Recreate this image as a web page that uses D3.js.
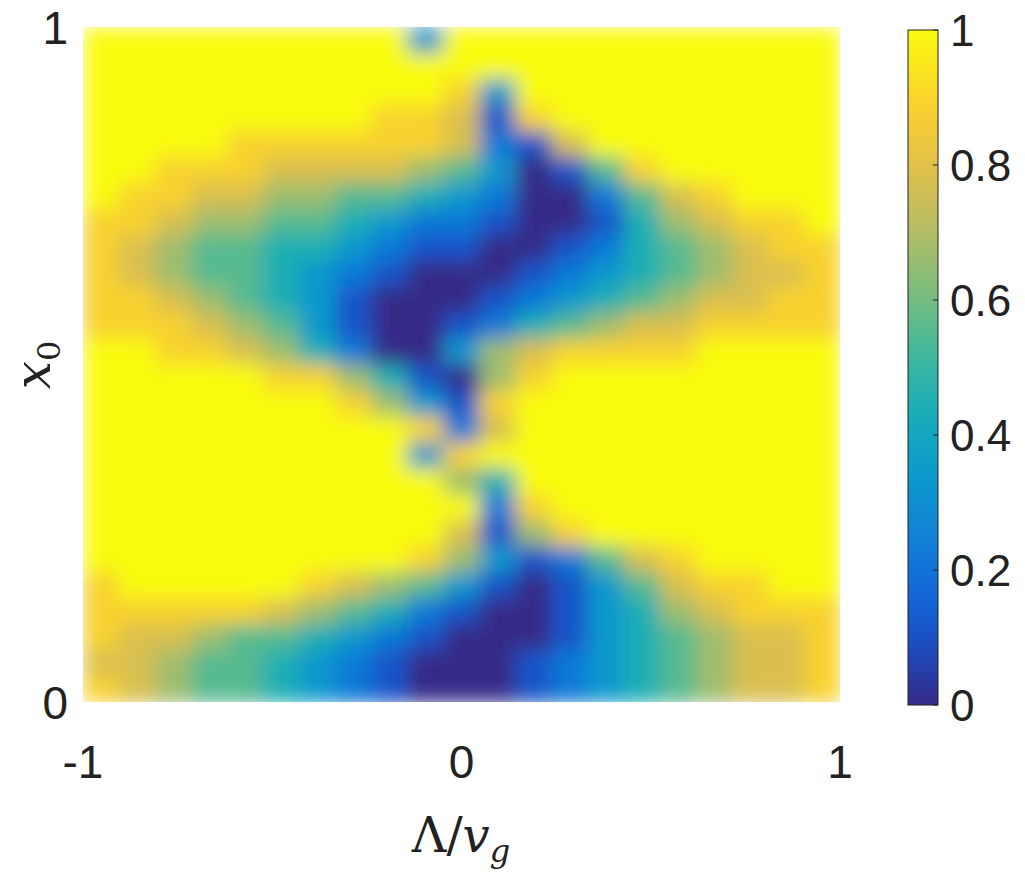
<!DOCTYPE html>
<html>
<head>
<meta charset="utf-8">
<script src="https://cdn.jsdelivr.net/npm/d3@7"></script>
<style>
  body { margin: 0; background: #fff; }
  text { font-family: "Liberation Sans", Arial, sans-serif; fill: #222; }
</style>
</head>
<body>
<svg id="chart" width="1025" height="873"></svg>
<script>
// Λ/v_g column centres, -1 .. 1
const lambdas = d3.range(21).map((i) => +(-1 + i * 0.1).toFixed(1))
// x0 rows, top (1) to bottom (0)
const x0s = d3.range(26).map((i) => +(1 - i * 0.04).toFixed(2))
// one digit per cell, 0..9 (9 = 1.0)
const rows = [
  '999999999399999999999',
  '999999999999999999999',
  '999999999983999999999',
  '999999998871899999999',
  '999988888872179999999',
  '998887777653015899999',
  '988776655432002578999',
  '887665543221001467889',
  '876554432110012456788',
  '876554321000123456778',
  '887654310001234567788',
  '888765310012456778888',
  '998876420036788889999',
  '999998864106899999999',
  '999999986318999999999',
  '999999999827999999999',
  '999999999389999999999',
  '999999999964999999999',
  '999999999992899999999',
  '999999999971689999999',
  '999999999863125789999',
  '899999876531013578899',
  '888887654210013467888',
  '877655432100013456778',
  '776554321000123456778',
  '876554321000123456778'
]
const cells = []
rows.forEach((r, j) => r.split('').forEach((c, i) => cells.push({ i, j, v: +c / 9 })))
const xTicks = [-1, 0, 1]
const yTicks = [0, 1]
const cbTicks = [0, 0.2, 0.4, 0.6, 0.8, 1]
const parula = ['#352a87', '#0f5cdd', '#1481d6', '#06a4ca', '#2eb7a4', '#87bf77', '#d1bb59', '#fec832', '#f9fb0e']

const plot = { left: 83, right: 840, top: 27, bottom: 702 }
const svg = d3.select('#chart')
const color = d3.scaleSequential(d3.interpolateRgbBasis(parula)).domain([0, 1])

const xBand = d3.scaleBand().domain(d3.range(lambdas.length)).range([plot.left, plot.right])
const yBand = d3.scaleBand().domain(d3.range(x0s.length)).range([plot.top, plot.bottom])
const xScale = d3.scaleLinear().domain([-1, 1]).range([plot.left, plot.right])
const yScale = d3.scaleLinear().domain([0, 1]).range([plot.bottom, plot.top])

const defs = svg.append('defs')
defs.append('clipPath').attr('id', 'clip')
  .append('rect')
  .attr('x', plot.left).attr('y', plot.top)
  .attr('width', plot.right - plot.left).attr('height', plot.bottom - plot.top)
defs.append('filter').attr('id', 'soft')
  .attr('x', 0).attr('y', 0).attr('width', 1).attr('height', 1)
  .append('feGaussianBlur').attr('stdDeviation', 10).attr('edgeMode', 'duplicate')

svg.append('g').attr('clip-path', 'url(#clip)')
  .append('g').attr('filter', 'url(#soft)')
  .selectAll('rect')
  .data(cells)
  .join('rect')
  .attr('x', (d) => xBand(d.i))
  .attr('y', (d) => yBand(d.j))
  .attr('width', xBand.bandwidth() + 1)
  .attr('height', yBand.bandwidth() + 1)
  .attr('fill', (d) => color(d.v))

// tick labels
svg.append('g').selectAll('text').data(xTicks).join('text')
  .attr('x', (d) => xScale(d)).attr('y', 778)
  .attr('text-anchor', 'middle').attr('font-size', 46)
  .text((d) => d)
svg.append('g').selectAll('text').data(yTicks).join('text')
  .attr('x', 68).attr('y', (d) => yScale(d) + 17)
  .attr('text-anchor', 'end').attr('font-size', 46)
  .text((d) => d)

// axis labels
svg.append('text')
  .attr('transform', 'translate(50,365) rotate(-90)')
  .attr('text-anchor', 'middle')
  .style('font-family', '"DejaVu Serif", serif').style('font-style', 'italic')
  .attr('font-size', 50)
  .html('x<tspan font-size="32" dy="10" font-style="normal">0</tspan>')
svg.append('text')
  .attr('x', 461).attr('y', 852)
  .attr('text-anchor', 'middle')
  .style('font-family', '"DejaVu Serif", serif')
  .attr('font-size', 48)
  .html('Λ/<tspan font-style="italic">v</tspan><tspan font-size="32" dy="10" font-style="italic">g</tspan>')

// colorbar
const cb = { x: 908, w: 30, top: 30, bottom: 705 }
const cbScale = d3.scaleLinear().domain([0, 1]).range([cb.bottom, cb.top])
const grad = defs.append('linearGradient').attr('id', 'cbgrad')
  .attr('x1', 0).attr('y1', 1).attr('x2', 0).attr('y2', 0)
grad.selectAll('stop').data(d3.range(0, 1.001, 0.05)).join('stop')
  .attr('offset', (d) => d).attr('stop-color', (d) => color(d))
svg.append('rect')
  .attr('x', cb.x).attr('y', cb.top).attr('width', cb.w).attr('height', cb.bottom - cb.top)
  .attr('fill', 'url(#cbgrad)').attr('stroke', '#222').attr('stroke-width', 1)
const cbAxis = svg.append('g')
cbAxis.selectAll('line').data(cbTicks).join('line')
  .attr('x1', cb.x + cb.w - 5).attr('x2', cb.x + cb.w)
  .attr('y1', (d) => cbScale(d)).attr('y2', (d) => cbScale(d))
  .attr('stroke', '#222')
cbAxis.selectAll('text').data(cbTicks).join('text')
  .attr('x', 950).attr('y', (d) => cbScale(d) + 16)
  .attr('font-size', 44)
  .text((d) => (d === 0 || d === 1 ? d : d.toFixed(1)))
</script>
</body>
</html>
